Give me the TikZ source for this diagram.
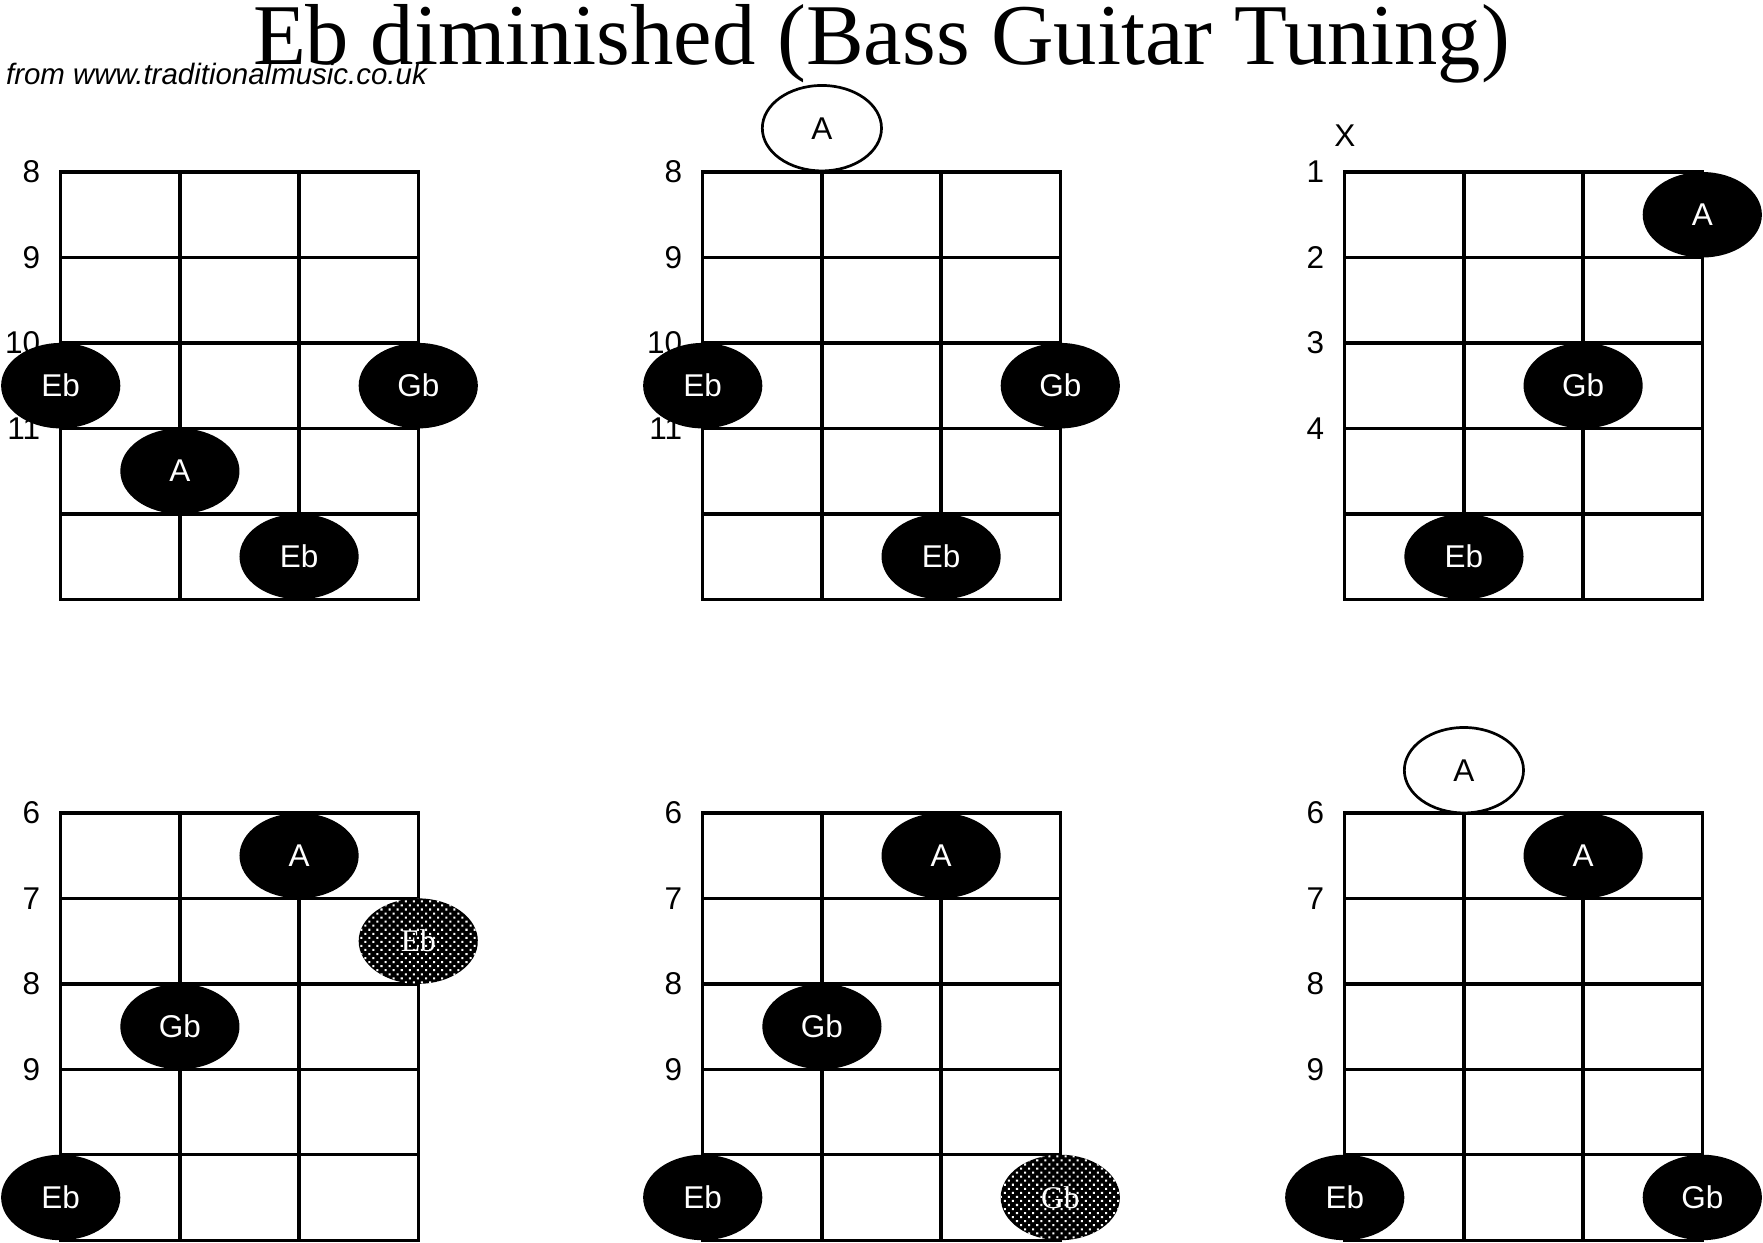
\documentclass[tikz,border=0pt]{standalone}
\usepackage{fontspec}
\setmainfont{Liberation Serif}
\setsansfont{Liberation Sans}
\usetikzlibrary{shapes.geometric,patterns}
\pgfdeclarepatternformonly{stippledots}{\pgfpoint{-0.1pt}{-0.1pt}}{\pgfpoint{3.7pt}{3.7pt}}{\pgfpoint{3.6pt}{3.6pt}}{%
  \pgfpathrectangle{\pgfpoint{0pt}{0pt}}{\pgfpoint{0.9pt}{0.9pt}}%
  \pgfpathrectangle{\pgfpoint{1.8pt}{1.8pt}}{\pgfpoint{0.9pt}{0.9pt}}%
  \pgfusepath{fill}}
\tikzset{
  gridline/.style={line width=1.5pt, line cap=rect},
  notefont/.style={font=\sffamily\fontsize{14}{14}\selectfont},
  fingerdot/.style={ellipse, fill=black, text=white, minimum width=53pt, minimum height=38pt, inner sep=0pt, notefont},
  opendot/.style={ellipse, draw=black, line width=1.2pt, fill=white, text=black, minimum width=53pt, minimum height=38pt, inner sep=0pt, notefont},
  stippledot/.style={ellipse, fill=black, text=white, minimum width=53pt, minimum height=38pt, inner sep=0pt,
     font=\rmfamily\fontsize{14}{14}\selectfont,
     postaction={pattern=stippledots, pattern color=white}},
  fretnum/.style={anchor=east, inner sep=0pt, notefont},
}
\begin{document}
\begin{tikzpicture}[x=0.5pt,y=-0.5pt]
\useasboundingbox (0,0) rectangle (1568,1105);
% title
\node[anchor=base, inner sep=0pt, font=\rmfamily\fontsize{38.5}{38.5}\selectfont] (title) at (784,57) {Eb diminished (Bass Guitar Tuning)};
\node[anchor=base west, inner sep=0pt, font=\sffamily\itshape\fontsize{13.1}{13.1}\selectfont] (source) at (5,75) {from www.traditionalmusic.co.uk};
% grids
\foreach \gx in {54,625,1196} {
  \foreach \gy in {153,723} {
    \foreach \i in {0,...,3} \draw[gridline] (\gx+\i*106,\gy) -- (\gx+\i*106,\gy+380);
    \foreach \j in {0,...,5} \draw[gridline] (\gx,\gy+\j*76) -- (\gx+318,\gy+\j*76);
  }
}
% fret numbers
\node[fretnum] (n1a) at (36,153) {8};
\node[fretnum] (n1b) at (36,229) {9};
\node[fretnum] (n1c) at (36,305) {10};
\node[fretnum] (n1d) at (36,381) {11};
\node[fretnum] (n2a) at (607,153) {8};
\node[fretnum] (n2b) at (607,229) {9};
\node[fretnum] (n2c) at (607,305) {10};
\node[fretnum] (n2d) at (607,381) {11};
\node[fretnum] (n3a) at (1178,153) {1};
\node[fretnum] (n3b) at (1178,229) {2};
\node[fretnum] (n3c) at (1178,305) {3};
\node[fretnum] (n3d) at (1178,381) {4};
\foreach \gx/\nm in {36/4,607/5,1178/6} {
  \node[fretnum] (n\nm a) at (\gx,723) {6};
  \node[fretnum] (n\nm b) at (\gx,799) {7};
  \node[fretnum] (n\nm c) at (\gx,875) {8};
  \node[fretnum] (n\nm d) at (\gx,951) {9};
}
\node[inner sep=0pt, notefont] (mute) at (1196,121) {X};
% diagram 1
\node[fingerdot] (d1eb) at (54,343) {Eb};
\node[fingerdot] (d1gb) at (372,343) {Gb};
\node[fingerdot] (d1a) at (160,419) {A};
\node[fingerdot] (d1eb2) at (266,495) {Eb};
% diagram 2
\node[opendot] (d2open) at (731,114) {A};
\node[fingerdot] (d2eb) at (625,343) {Eb};
\node[fingerdot] (d2gb) at (943,343) {Gb};
\node[fingerdot] (d2eb2) at (837,495) {Eb};
% diagram 3
\node[fingerdot] (d3a) at (1514,191) {A};
\node[fingerdot] (d3gb) at (1408,343) {Gb};
\node[fingerdot] (d3eb) at (1302,495) {Eb};
% diagram 4
\node[fingerdot] (d4a) at (266,761) {A};
\node[stippledot] (d4eb) at (372,837) {Eb};
\node[fingerdot] (d4gb) at (160,913) {Gb};
\node[fingerdot] (d4eb2) at (54,1065) {Eb};
% diagram 5
\node[fingerdot] (d5a) at (837,761) {A};
\node[fingerdot] (d5gb) at (731,913) {Gb};
\node[fingerdot] (d5eb) at (625,1065) {Eb};
\node[stippledot] (d5gb2) at (943,1065) {Gb};
% diagram 6
\node[opendot] (d6open) at (1302,685) {A};
\node[fingerdot] (d6a) at (1408,761) {A};
\node[fingerdot] (d6eb) at (1196,1065) {Eb};
\node[fingerdot] (d6gb) at (1514,1065) {Gb};
\end{tikzpicture}
\end{document}
